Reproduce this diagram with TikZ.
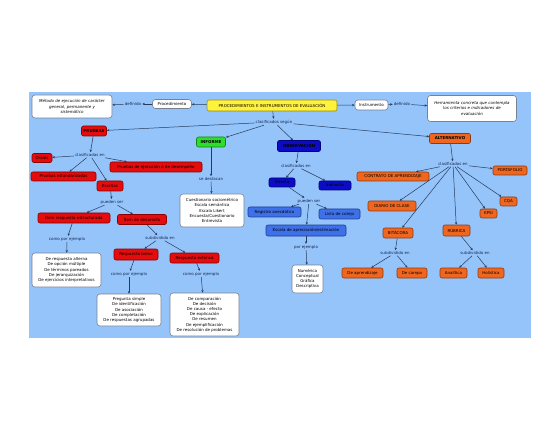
\documentclass[tikz,border=0pt]{standalone}
\usepackage{fontspec}
\usetikzlibrary{arrows.meta}
\newfontfamily\vf{DejaVu Sans}
\definecolor{bgblue}{RGB}{148,196,250}
\definecolor{conncol}{RGB}{40,58,92}
\definecolor{lblcol}{RGB}{25,40,80}
\definecolor{redf}{RGB}{228,12,12}
\definecolor{redd}{RGB}{140,0,0}
\definecolor{grnf}{RGB}{45,222,45}
\definecolor{grnd}{RGB}{20,130,20}
\definecolor{dbf}{RGB}{12,12,200}
\definecolor{dbd}{RGB}{0,0,120}
\definecolor{mbf}{RGB}{62,112,232}
\definecolor{mbd}{RGB}{30,60,150}
\definecolor{orf}{RGB}{240,102,30}
\definecolor{ord}{RGB}{140,60,20}
\definecolor{yelf}{RGB}{255,242,60}
\definecolor{yeld}{RGB}{150,140,30}
\definecolor{whd}{RGB}{120,130,145}
\tikzset{
  base/.style={rectangle, rounded corners=2pt, draw, line width=0.6pt, inner sep=0.5pt, align=center,
    font=\vf\fontsize{4}{5.2}\selectfont, text=black},
  wbox/.style={base, fill=white, draw=whd, rounded corners=3pt},
  rbox/.style={base, fill=redf, draw=redd},
  gbox/.style={base, fill=grnf, draw=grnd},
  dbbox/.style={base, fill=dbf, draw=dbd},
  mbbox/.style={base, fill=mbf, draw=mbd},
  obox/.style={base, fill=orf, draw=ord},
  ybox/.style={base, fill=yelf, draw=yeld},
  lbl/.style={inner sep=1pt, font=\vf\fontsize{4}{5.2}\selectfont, text=lblcol},
  conn/.style={draw=conncol, line width=0.5pt, -{Stealth[length=2.6pt,width=2.3pt]}},
}
\begin{document}
\begin{tikzpicture}[x=1pt,y=-1pt]
\useasboundingbox (0,0) rectangle (560,433);
\fill[white] (0,0) rectangle (560,433);
\fill[bgblue] (29,92) rectangle (531,338);

% top row
\node[wbox, minimum width=80, minimum height=23, font=\vf\itshape\fontsize{4}{5.2}\selectfont] (metodo) at (72,106.5) {Método de ejecución de carácter\\general, permanente y\\sistemático};
\node[lbl] (def1) at (133,104) {definido};
\node[wbox, minimum width=39, minimum height=9] (proc) at (172,104) {Procedimiento};
\node[ybox, minimum width=130, minimum height=11] (main) at (272,105.5) {PROCEDIMIENTOS E INSTRUMENTOS DE EVALUACIÓN};
\node[wbox, minimum width=33, minimum height=10] (instr) at (371.5,105) {Instrumento};
\node[lbl] (def2) at (402,104) {definido};
\node[wbox, minimum width=89, minimum height=26, font=\vf\itshape\fontsize{4}{5.2}\selectfont] (herr) at (472,108.5) {Herramienta concreta que contempla\\los criterios e indicadores de\\evaluación};
\node[lbl] (clsg) at (274,122) {clasificados según};

% categories
\node[rbox, minimum width=25, minimum height=10, font=\vf\bfseries\fontsize{4}{5.2}\selectfont] (prueba) at (94,131) {PRUEBAS};
\node[gbox, minimum width=29, minimum height=10, font=\vf\bfseries\fontsize{4}{5.2}\selectfont] (informe) at (211,142) {INFORME};
\node[dbbox, minimum width=43, minimum height=11, font=\vf\bfseries\fontsize{4}{5.2}\selectfont] (obs) at (299,146) {OBSERVACIÓN};
\node[obox, minimum width=41, minimum height=10, font=\vf\bfseries\fontsize{4}{5.2}\selectfont] (alt) at (450,138.5) {ALTERNATIVO};

% PRUEBAS branch
\node[lbl] (cl1) at (90,155) {clasificadas en};
\node[rbox, minimum width=20, minimum height=9] (orales) at (42,158) {Orales};
\node[rbox, minimum width=92, minimum height=10] (ejec) at (156,167) {Pruebas de ejecución o de desempeño};
\node[rbox, minimum width=65, minimum height=9] (estand) at (63.5,176.5) {Pruebas estandarizadas};
\node[rbox, minimum width=26, minimum height=10] (escritas) at (110,186) {Escritas};
\node[lbl] (ps1) at (112,202) {pueden ser};
\node[rbox, minimum width=72, minimum height=10] (itemrc) at (74,218) {Ítem respuesta estructurada};
\node[rbox, minimum width=49, minimum height=10] (itemdes) at (142,219.5) {Ítem de desarrollo};
\node[lbl] (cpe1) at (67,239) {como por ejemplo};
\node[wbox, minimum width=69, minimum height=34] (box1) at (66.5,270) {De respuesta alterna\\De opción múltiple\\De términos pareados\\De jerarquización\\De ejercicios interpretativos};
\node[lbl] (sub1) at (160,238) {subdividido en};
\node[rbox, minimum width=44, minimum height=11] (breve) at (136,254.5) {Respuesta breve};
\node[rbox, minimum width=49, minimum height=10] (extensa) at (194.5,258) {Respuesta extensa};
\node[lbl] (cpe2) at (129,274) {como por ejemplo};
\node[lbl] (cpe3) at (201,274) {como por ejemplo};
\node[wbox, minimum width=64, minimum height=32] (box2) at (129,310) {Pregunta simple\\De identificación\\De asociación\\De completación\\De respuestas agrupadas};
\node[wbox, minimum width=69, minimum height=43] (box3) at (204.5,314.5) {De comparación\\De decisión\\De causa - efecto\\De explicación\\De resumen\\De ejemplificación\\De resolución de problemas};

% INFORME branch
\node[lbl] (sd) at (211,179) {se destacan};
\node[wbox, minimum width=64, minimum height=33] (box4) at (212,210.5) {Cuestionario sociométrico\\Escala semántica\\Escala Likert\\Encuesta/Cuestionario\\Entrevista};

% OBSERVACION branch
\node[lbl] (cl2) at (296,166) {clasificados en};
\node[dbbox, minimum width=26, minimum height=9] (directa) at (282,182.5) {Directa};
\node[dbbox, minimum width=32, minimum height=9] (indirecta) at (335,185.5) {Indirecta};
\node[lbl] (ps2) at (309,201) {pueden ser};
\node[mbbox, minimum width=53, minimum height=10] (reg) at (274.5,212) {Registro anecdótico};
\node[mbbox, minimum width=41, minimum height=10] (lista) at (339.5,214) {Lista de cotejo};
\node[mbbox, minimum width=80, minimum height=11] (escala) at (306,230.5) {Escala de apreciación/estimación};
\node[lbl] (pe) at (306,247) {por ejemplo};
\node[wbox, minimum width=31, minimum height=28] (box5) at (307.5,279) {Numérica\\Conceptual\\Gráfica\\Descriptiva};

% ALTERNATIVO branch
\node[lbl] (cl3) at (453,164) {clasificados en};
\node[obox, minimum width=34, minimum height=9] (port) at (510,170.5) {PORTAFOLIO};
\node[obox, minimum width=72, minimum height=9] (contrato) at (393,176.5) {CONTRATO DE APRENDIZAJE};
\node[obox, minimum width=48, minimum height=10] (diario) at (392,206) {DIARIO DE CLASE};
\node[obox, minimum width=17, minimum height=9] (cqa) at (508.5,201.5) {CQA};
\node[obox, minimum width=17, minimum height=9] (kpsi) at (488.5,213.5) {KPSI};
\node[obox, minimum width=30, minimum height=10] (bit) at (398,233) {BITÁCORA};
\node[obox, minimum width=27, minimum height=11] (rub) at (456.5,230.5) {RÚBRICA};
\node[lbl] (sub2) at (395,253) {subdividido en};
\node[lbl] (sub3) at (475,253) {subdividido en};
\node[obox, minimum width=41, minimum height=10] (deap) at (362.5,273) {De aprendizaje};
\node[obox, minimum width=30, minimum height=10] (decam) at (412,273) {De campo};
\node[obox, minimum width=27, minimum height=10] (anal) at (453.5,273) {Analítica};
\node[obox, minimum width=26, minimum height=10] (hol) at (491,273) {Holística};

% connectors
\draw[conn] (main) -- (proc);
\draw[conn] (proc) -- (def1);
\draw[conn] (def1) -- (metodo);
\draw[conn] (main) -- (instr);
\draw[conn] (instr) -- (def2);
\draw[conn] (def2) -- (herr);
\draw[conn] (main) -- (clsg);
\draw[conn] (clsg) -- (prueba);
\draw[conn] (clsg) -- (informe);
\draw[conn] (clsg) -- (obs);
\draw[conn] (clsg) -- (alt);

\draw[conn] (prueba) -- (cl1);
\draw[conn] (cl1) -- (orales);
\draw[conn] (cl1) -- (ejec);
\draw[conn] (cl1) -- (estand);
\draw[conn] (cl1) -- (escritas);
\draw[conn] (escritas) -- (ps1);
\draw[conn] (ps1) -- (itemrc);
\draw[conn] (ps1) -- (itemdes);
\draw[conn] (itemrc) -- (cpe1);
\draw[conn] (cpe1) -- (box1);
\draw[conn] (itemdes) -- (sub1);
\draw[conn] (sub1) -- (breve);
\draw[conn] (sub1) -- (extensa);
\draw[conn] (breve) -- (cpe2);
\draw[conn] (cpe2) -- (box2);
\draw[conn] (extensa) -- (cpe3);
\draw[conn] (cpe3) -- (box3);

\draw[conn] (informe) -- (sd);
\draw[conn] (sd) -- (box4);

\draw[conn] (obs) -- (cl2);
\draw[conn] (cl2) -- (directa);
\draw[conn] (cl2) -- (indirecta);
\draw[conn] (directa) -- (ps2);
\draw[conn] (ps2) -- (reg);
\draw[conn] (ps2) -- (lista);
\draw[conn] (ps2) -- (escala);
\draw[conn] (escala) -- (pe);
\draw[conn] (pe) -- (box5);

\draw[conn] (alt) -- (cl3);
\draw[conn] (cl3) -- (port);
\draw[conn] (cl3) -- (contrato);
\draw[conn] (cl3) -- (diario);
\draw[conn] (cl3) -- (cqa);
\draw[conn] (cl3) -- (kpsi);
\draw[conn] (cl3) -- (bit);
\draw[conn] (cl3) -- (rub);
\draw[conn] (bit) -- (sub2);
\draw[conn] (sub2) -- (deap);
\draw[conn] (sub2) -- (decam);
\draw[conn] (rub) -- (sub3);
\draw[conn] (sub3) -- (anal);
\draw[conn] (sub3) -- (hol);
\end{tikzpicture}
\end{document}
